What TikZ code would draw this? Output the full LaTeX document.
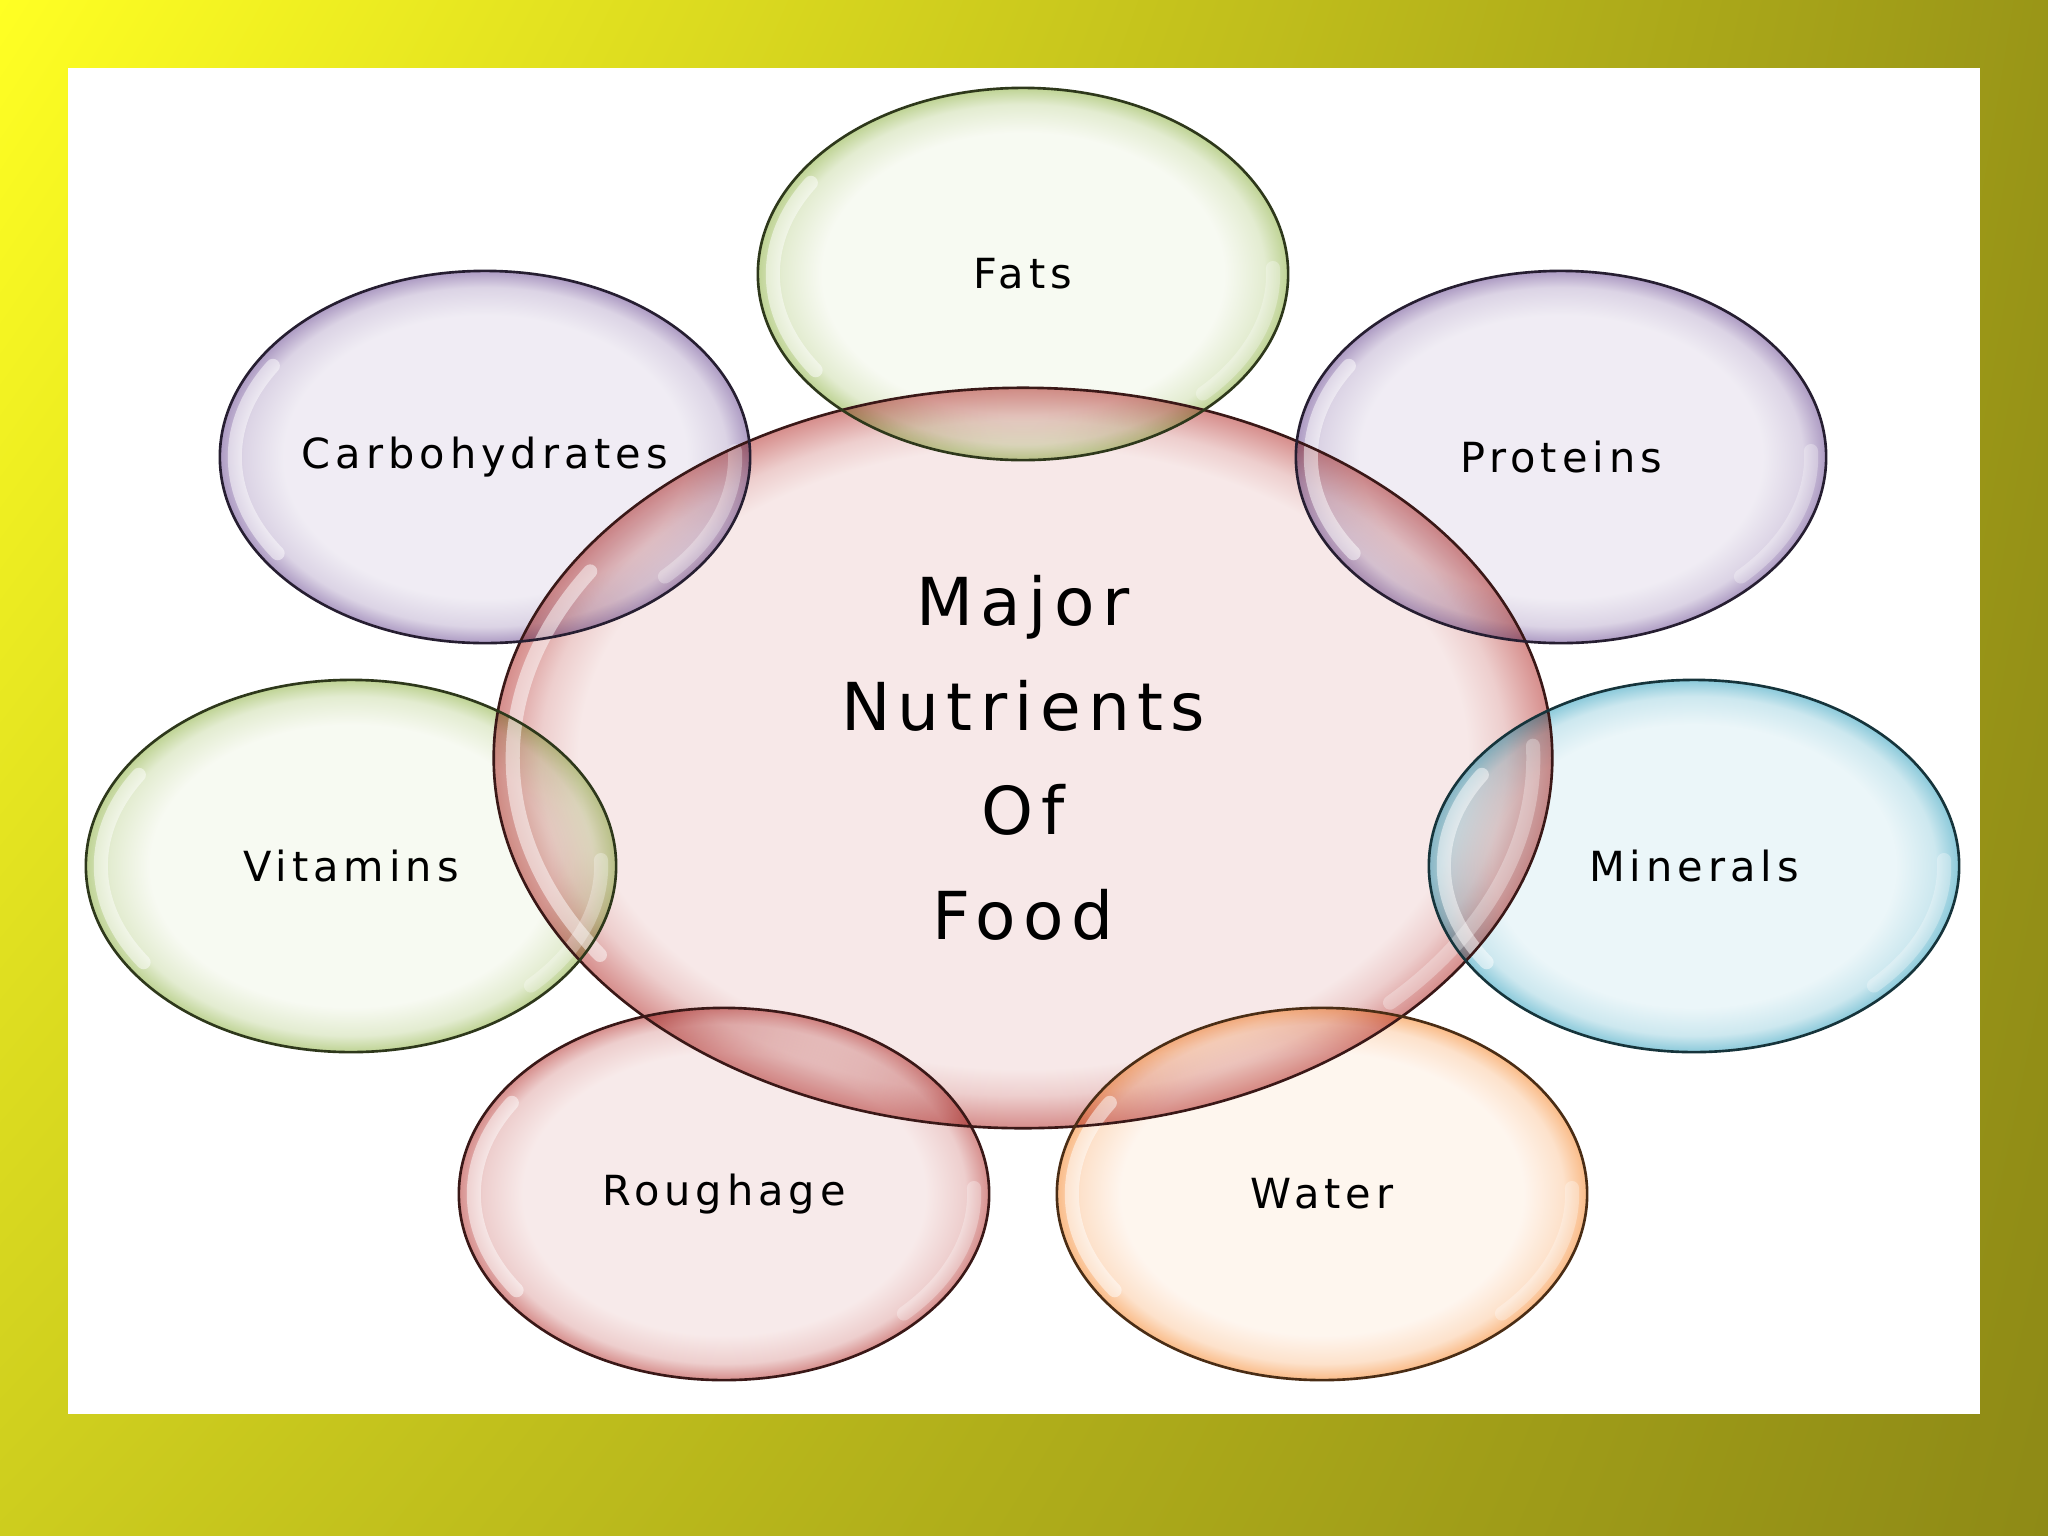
\documentclass[tikz,border=0pt]{standalone}
\usepackage{fontspec}
\setmainfont{DejaVu Sans}
\newfontfamily\bubblefont[LetterSpace=12]{DejaVu Sans}
\newfontfamily\corefont[LetterSpace=11]{DejaVu Sans}
\usetikzlibrary{shapes.geometric, shadings}

\definecolor{bgyellow}{RGB}{255,255,35}
\definecolor{bgmid}{RGB}{205,205,30}
\definecolor{bgolive}{RGB}{142,138,22}
\definecolor{rimred}{RGB}{192,80,77}
\definecolor{rimgreen}{RGB}{155,187,89}
\definecolor{rimpurple}{RGB}{128,100,162}
\definecolor{rimblue}{RGB}{75,172,198}
\definecolor{rimorange}{RGB}{247,150,70}

% radial shading: pale inside, coloured glow at the rim (#4 = where the glow starts)
\newcommand{\bubbleshading}[4]{%
  \pgfdeclareradialshading{#1}{\pgfpoint{0bp}{0bp}}{%
    color(0bp)=(#2!#3!white); color(#4bp)=(#2!#3!white);
    color(22.8bp)=(#2!28!white); color(24.4bp)=(#2!55!white);
    color(25bp)=(#2!65!white); color(50bp)=(#2!65!white)}}
\bubbleshading{shadecore}{rimred}{13}{21}
\bubbleshading{shadered}{rimred}{12}{19}
\bubbleshading{shadegreen}{rimgreen}{8}{19}
\bubbleshading{shadepurple}{rimpurple}{12}{19}
\bubbleshading{shadeblue}{rimblue}{11}{19}
\bubbleshading{shadeorange}{rimorange}{9}{19}

\newcommand{\shine}[3]{%
  \draw[gloss] (#1.center) ++(148:#2 and #3) arc[start angle=148, end angle=214, x radius=#2, y radius=#3];
  \draw[gloss, opacity=0.3] (#1.center) ++(-44:#2 and #3) arc[start angle=-44, end angle=2, x radius=#2, y radius=#3];}

\begin{document}
\begin{tikzpicture}[x=0.01cm, y=-0.01cm,
    bubble/.style={ellipse, minimum width=5.3cm, minimum height=3.72cm, inner sep=0pt,
        shade, shading=#1, font=\bubblefont\fontsize{11.8}{13}\selectfont},
    core/.style={ellipse, minimum width=10.58cm, minimum height=7.4cm, inner sep=0pt,
        shade, shading=shadecore},
    rim/.style={draw=#1!30!black, line width=0.75pt},
    gloss/.style={white, line width=4pt, opacity=0.5, line cap=round}]
    % slide background and white panel
    \shade[upper left=bgyellow, upper right=bgolive!90!bgyellow, lower left=bgmid, lower right=bgolive]
        (0,0) rectangle (2048,1536);
    \fill[white] (68,68) rectangle (1980,1414);
    \useasboundingbox (0,0) rectangle (2048,1536);

    \node[core] (core) at (1023,758) {};
    \begin{scope}[blend mode=multiply]
        \node[bubble=shadegreen] (fats) at (1023,274) {Fats};
        \node[bubble=shadepurple] (carbs) at (485,457) {Carbohydrates};
        \node[bubble=shadepurple] (proteins) at (1561,457) {Proteins};
        \node[bubble=shadegreen] (vitamins) at (351,866) {Vitamins};
        \node[bubble=shadeblue] (minerals) at (1694,866) {Minerals};
        \node[bubble=shadered] (roughage) at (724,1194) {Roughage};
        \node[bubble=shadeorange] (water) at (1322,1194) {Water};
    \end{scope}
    \node[font=\corefont\fontsize{18.8}{29.7}\selectfont, align=center] (title) at (core) {Major\\Nutrients\\Of\\Food};

    % highlights
    \shine{core}{5.1cm}{3.52cm}
    \shine{fats}{2.5cm}{1.72cm}
    \shine{carbs}{2.5cm}{1.72cm}
    \shine{proteins}{2.5cm}{1.72cm}
    \shine{vitamins}{2.5cm}{1.72cm}
    \shine{minerals}{2.5cm}{1.72cm}
    \shine{roughage}{2.5cm}{1.72cm}
    \shine{water}{2.5cm}{1.72cm}

    % outlines on top
    \draw[rim=rimred] (core.center) ellipse[x radius=5.29cm, y radius=3.7cm];
    \draw[rim=rimgreen] (fats.center) ellipse[x radius=2.65cm, y radius=1.86cm];
    \draw[rim=rimpurple] (carbs.center) ellipse[x radius=2.65cm, y radius=1.86cm];
    \draw[rim=rimpurple] (proteins.center) ellipse[x radius=2.65cm, y radius=1.86cm];
    \draw[rim=rimgreen] (vitamins.center) ellipse[x radius=2.65cm, y radius=1.86cm];
    \draw[rim=rimblue] (minerals.center) ellipse[x radius=2.65cm, y radius=1.86cm];
    \draw[rim=rimred] (roughage.center) ellipse[x radius=2.65cm, y radius=1.86cm];
    \draw[rim=rimorange] (water.center) ellipse[x radius=2.65cm, y radius=1.86cm];
\end{tikzpicture}
\end{document}
